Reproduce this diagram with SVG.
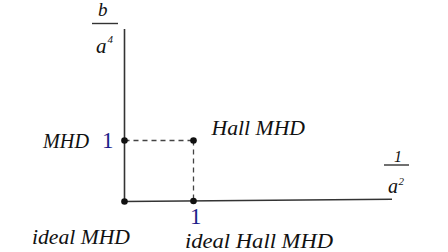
<svg xmlns="http://www.w3.org/2000/svg" width="448" height="252" viewBox="0 0 448 252">
<style>
text{font-family:'Liberation Serif','DejaVu Serif',serif}
.lbl{font-style:italic;font-size:22px;fill:#111}
.num{font-size:23px;fill:#1c1c8a}
.math{font-style:italic;fill:#111}
.axis{stroke:#333;stroke-width:1.6;fill:none}
.dash{stroke:#444;stroke-width:1.3;stroke-dasharray:5 4;fill:none}
.bar{stroke:#333;stroke-width:1.4}
.dot{fill:#111}
</style>
<rect width="448" height="252" fill="#fff"/>
<g id="connectors">
<line class="axis" x1="124.5" y1="29" x2="124.5" y2="202"/>
<line class="axis" x1="124" y1="201.5" x2="392" y2="199.3"/>
<line class="dash" x1="124.5" y1="140.5" x2="193.5" y2="140.5"/>
<line class="dash" x1="193.5" y1="140.5" x2="193.5" y2="201"/>
</g>
<g id="y-axis-label">
<text class="math" x="98" y="16" font-size="19" font-family="Liberation Serif, serif">b</text>
<line class="bar" x1="92" y1="23.5" x2="118" y2="23.5"/>
<text class="math" x="96" y="53" font-size="21" font-family="Liberation Serif, serif">a</text>
<text class="math" x="107.5" y="43" font-size="11" font-family="Liberation Serif, serif">4</text>
</g>
<g id="x-axis-label">
<text class="math" x="394" y="161.5" font-size="16" font-family="Liberation Serif, serif">1</text>
<line class="bar" x1="384" y1="165" x2="409" y2="165"/>
<text class="math" x="388" y="193" font-size="20" font-family="Liberation Serif, serif">a</text>
<text class="math" x="398.5" y="185" font-size="11" font-family="Liberation Serif, serif">2</text>
</g>
<g id="node-mhd">
<circle class="dot" cx="124.5" cy="140.5" r="3.3"/>
<text class="lbl" x="43" y="147.5" textLength="46" lengthAdjust="spacingAndGlyphs" font-family="Liberation Serif, serif">MHD</text>
<text class="num" x="102" y="147.5" font-family="Liberation Serif, serif">1</text>
</g>
<g id="node-hall-mhd">
<circle class="dot" cx="193.5" cy="140.5" r="3.3"/>
<text class="lbl" x="211.5" y="134.7" textLength="93.5" lengthAdjust="spacingAndGlyphs" font-family="Liberation Serif, serif">Hall MHD</text>
</g>
<g id="node-ideal-mhd">
<circle class="dot" cx="124.5" cy="201.5" r="3.3"/>
<text class="lbl" x="32" y="244" textLength="98" lengthAdjust="spacingAndGlyphs" font-family="Liberation Serif, serif">ideal MHD</text>
</g>
<g id="node-ideal-hall-mhd">
<circle class="dot" cx="193.5" cy="201" r="3.3"/>
<text class="num" x="190" y="223.5" font-size="22" font-family="Liberation Serif, serif">1</text>
<text class="lbl" x="185" y="247.5" font-size="21" textLength="148" lengthAdjust="spacingAndGlyphs" font-family="Liberation Serif, serif">ideal Hall MHD</text>
</g>
</svg>
